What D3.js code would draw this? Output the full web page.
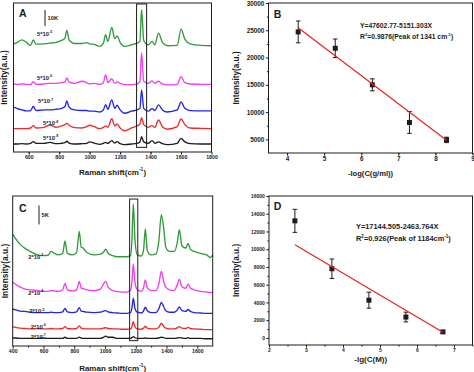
<!DOCTYPE html>
<html>
<head>
<meta charset="utf-8">
<script src="https://cdn.jsdelivr.net/npm/d3@7"></script>
<style>
  body { margin: 0; background: #fff; }
  svg { display: block; font-family: "Liberation Sans", Arial, sans-serif; font-weight: bold; }
</style>
</head>
<body>
<svg id="chart"></svg>
<script>
// ---- panel A: spectra, 5*10^-5 ... 5*10^-9 g/ml (heights in K counts above each baseline)
const ramanA = [500,525,555,585,612,630,648,700,740,780,815,838,850,865,900,950,980,1000,1030,1068,1090,1105,1120,1145,1165,1180,1200,1230,1275,1310,1330,1341,1355,1385,1410,1428,1452,1478,1510,1575,1600,1625,1660,1730,1800];
const concA = ["5*10", "5*10", "5*10", "5*10", "5*10"];
const expA = ["-5", "-6", "-7", "-8", "-9"];
const offsetA = [67, 42.5, 26.3, 14.8, 5.0];
const greenA = [0.4,1.5,3.1,1.5,-0.4,3.1,0.4,0.6,1.0,1.5,2.7,4.2,9.0,3.1,0.8,0.8,1.3,0.6,0.2,-1.0,1.0,6.3,2.1,10.8,3.8,5.6,1.5,-1.0,0,1.0,2.1,21.9,2.7,0,2.1,0,7.3,1.5,-0.6,-0.4,9.8,3.5,0.6,-0.4,-0.6];
const magentaA = [0,-0.2,0,-0.2,-0.4,1.5,-0.2,0,0.4,0.4,0.8,1.3,3.8,1.3,0.4,1.7,0.8,0,0.4,-0.2,0.8,5.6,0.8,3.3,0.4,1.3,0.4,-0.4,-0.4,0,1.5,19.6,1.7,0.4,1.9,0.4,1.7,0,-0.6,-0.2,4.6,0.8,0,-0.2,-0.2];
const blueA = [1.7,0.8,0,-0.6,-0.4,2.1,-0.4,0,0,0.4,1.0,2.1,5.6,1.7,0,-0.4,-0.4,-0.8,-0.8,-1.3,0,3.3,0.4,6.3,1.0,2.9,0,-2.1,-0.8,0,1.0,12.5,1.0,-0.8,0.8,-0.4,3.1,0,-1.3,0,5.0,1.0,-0.4,-0.6,-0.6];
const redA = [-0.2,-0.2,-0.2,-0.2,0.2,1.7,0.2,0.6,2.1,0.6,1.5,2.3,3.1,1.9,0.4,0.2,1.0,1.9,1.0,-0.2,0.6,1.5,0.6,6.0,1.5,2.7,0.2,-1.5,0.2,1.5,2.7,6.7,2.3,0.6,1.7,0.6,5.2,1.0,-0.6,1.0,5.8,2.3,0.2,0,-0.2];
const blackA = [0,0,0.2,0,0.4,1.5,0.4,0.4,1.0,0.2,0.4,0.8,1.7,0.6,0,0.2,0.4,1.3,0.6,-0.2,0.4,1.0,0.4,2.1,0.6,1.5,0.2,-0.4,0,0.4,1.3,4.6,1.3,0.4,2.1,0.4,1.3,0.2,-0.4,0.4,3.5,1.3,0.2,0,0];
const ticksAx = [600, 800, 1000, 1200, 1400, 1600, 1800];

// ---- panel C: spectra, 2*10^-3 ... 2*10^-7 M
const ramanC = [400,420,450,480,520,560,600,630,650,670,700,725,740,755,790,815,833,845,858,880,930,970,990,1005,1020,1050,1080,1110,1140,1165,1175,1184,1195,1210,1235,1250,1262,1275,1300,1330,1350,1366,1381,1395,1420,1450,1470,1483,1500,1525,1540,1555,1580,1620,1660,1685,1700];
const concC = ["2*10", "2*10", "2*10", "2*10", "2*10"];
const expC = ["-3", "-4", "-5", "-6", "-7"];
const offsetC = [23.8, 14.4, 8.8, 4.5, 2.0];
const greenC = [5.7,4.4,2.9,1.9,1.0,0.2,0,0.1,1.1,0.6,0.2,0.6,3.9,0.6,0.2,0.8,6.4,2.2,2.0,0.9,0.2,0.4,0.9,1.7,0.6,0,-0.3,-0.3,-0.3,0,4.0,13.6,4.0,0.2,-0.1,1.3,7.0,1.3,0.2,0.4,3.9,10.8,7.4,2.2,1.1,1.1,3.5,6.8,2.6,2.0,3.2,1.7,1.1,0.6,0.2,-0.5,0.2];
const magentaC = [2.4,1.8,1.1,0.6,0.4,0.2,0,0,0.2,0.1,0,0.4,2.1,0.4,0.1,0.4,2.6,0.9,0.7,0.4,0.2,0.6,1.9,2.6,1.1,0.2,-0.1,-0.2,-0.2,0.2,2.5,7.2,2.2,0.4,0,0.9,3.0,0.9,0.2,0.2,1.9,5.3,2.6,1.1,0.4,0.2,1.8,3.2,1.2,0.8,1.9,0.9,0.4,0,-0.2,-0.3,-0.3];
const blueC = [1.0,0.7,0.4,0.3,0.1,0,0,0,0.1,0,0,0.2,1.1,0.2,0,0.2,1.3,0.4,0.3,0.1,0,0.1,0.4,0.5,0.2,0,-0.1,-0.2,-0.2,0,1.2,3.8,1.0,0.1,-0.1,0.4,1.4,0.5,0,0,1.0,2.7,1.6,0.5,0.1,0.1,0.7,1.5,0.5,0.3,0.8,0.3,0,-0.1,-0.2,-0.2,-0.2];
const redC = [0.6,0.4,0.2,0.1,0,0.1,0,0,0.1,0,0,0.1,0.6,0.1,0,0.1,0.8,0.2,0.1,0,0,0,0.2,0.3,0.1,0,0,-0.1,-0.1,0,0.6,1.9,0.5,0,-0.1,0.2,0.7,0.2,0,0,0.4,1.5,0.7,0.2,0,0,0.3,0.6,0.2,0.1,0.4,0.1,0,-0.1,-0.2,-0.2,-0.2];
const blackC = [0.1,0.1,0,0,0,0,0.1,0,0,0,0,0,0.3,0,0,0,0.35,0.1,0,0,0,0,0.3,0.6,0.3,0.3,0,0,0,0,0.2,0.45,0.2,0,0,0,0.1,0,0,0,0.1,0.3,0.2,0,0,0,0.1,0.2,0.1,0,0.2,0,0,0,-0.1,-0.1,-0.1];
const ticksCx = [400, 600, 800, 1000, 1200, 1400, 1600];

// ---- panel B: peak 1341 cm-1 vs -log(C)
const logB = [4.3, 5.3, 6.3, 7.3, 8.3];
const intB = [24700, 21700, 15000, 8100, 4900];
const errB = [2000, 1700, 1100, 2000, 500];
const fitB = [47602.77, -5151.303];
const ticksBx = [4, 5, 6, 7, 8, 9];
const ticksBy = [5000, 10000, 15000, 20000, 25000, 30000];

// ---- panel D: peak 1184 cm-1 vs -lg(C)
const lgD = [2.7, 3.7, 4.7, 5.7, 6.7];
const intD = [13200, 7800, 4250, 2350, 680];
const errD = [1300, 1100, 900, 550, 150];
const fitD = [17144.505, -2463.764];
const ticksDx = [2, 3, 4, 5, 6, 7];
const ticksDy = [0, 2000, 4000, 6000, 8000, 10000, 12000, 14000, 16000];

const colors = ["#339a3c", "#f03ef0", "#2424e4", "#ea2c2c", "#1c1c1c"];
const ink = "#1c1c1c";

const svg = d3.select("#chart").attr("width", 474).attr("height", 372);
svg.append("rect").attr("width", 474).attr("height", 372).attr("fill", "#fff");

// text with superscripts; parts are strings or {sup: "..."}
function richText(g, x, y, parts, size, anchor) {
  const t = g.append("text").attr("x", x).attr("y", y)
    .attr("font-size", size).attr("fill", ink)
    .attr("text-anchor", anchor || "start");
  let up = false;
  parts.forEach(p => {
    const sup = typeof p !== "string";
    const ts = t.append("tspan").text(sup ? p.sup : p);
    if (sup) {
      ts.attr("font-size", size * 0.62);
      if (!up) { ts.attr("dy", -size * 0.42); up = true; }
    } else if (up) {
      ts.attr("dy", size * 0.42); up = false;
    }
  });
  return t;
}

function frame(g, x, y) {
  g.append("rect")
    .attr("x", x.range()[0]).attr("y", y.range()[1])
    .attr("width", x.range()[1] - x.range()[0])
    .attr("height", y.range()[0] - y.range()[1])
    .attr("fill", "none").attr("stroke", ink).attr("stroke-width", 1);
}

function styleAxis(a, size) {
  a.attr("font-family", null).attr("font-size", size);
  a.select(".domain").remove();
  a.selectAll("line").attr("stroke", ink);
  a.selectAll("text").attr("fill", ink);
}

function bottomAxis(g, x, y0, major, minor, size) {
  g.append("g").attr("transform", `translate(0,${y0})`)
    .call(d3.axisBottom(x).tickValues(minor).tickSize(1.6).tickFormat(""))
    .call(a => styleAxis(a, size));
  g.append("g").attr("transform", `translate(0,${y0})`)
    .call(d3.axisBottom(x).tickValues(major).tickSize(2.6).tickPadding(1).tickFormat(d3.format("d")))
    .call(a => styleAxis(a, size));
}

function leftAxis(g, y, x0, major, minor, size) {
  g.append("g").attr("transform", `translate(${x0},0)`)
    .call(d3.axisLeft(y).tickValues(minor).tickSize(1.6).tickFormat(""))
    .call(a => styleAxis(a, size));
  g.append("g").attr("transform", `translate(${x0},0)`)
    .call(d3.axisLeft(y).tickValues(major).tickSize(2.6).tickPadding(1.5).tickFormat(d3.format("d")))
    .call(a => styleAxis(a, size));
}

function yTitle(g, cx, cy, size) {
  g.append("text").attr("transform", `translate(${cx},${cy}) rotate(-90)`)
    .attr("text-anchor", "middle").attr("dy", "0.35em")
    .attr("font-size", size).attr("fill", ink).text("Intensity(a.u.)");
}

function spectraPanel(p) {
  const g = svg.append("g");
  const x = d3.scaleLinear().domain(p.xDomain).range(p.xRange);
  const y = d3.scaleLinear().domain(p.yDomain).range(p.yRange);
  const line = d3.line().x(d => x(d[0])).y(d => y(d[1])).curve(d3.curveMonotoneX);

  p.series.forEach((s, i) => {
    const pts = p.raman.map((w, j) => [w, p.offsets[i] + s[j]]);
    g.append("path").attr("d", line(pts))
      .attr("fill", "none").attr("stroke", colors[i])
      .attr("stroke-width", 1.35).attr("stroke-linejoin", "round");
  });

  // marked peak
  g.append("rect")
    .attr("x", x(p.box[0])).attr("y", y(p.box[3]))
    .attr("width", x(p.box[1]) - x(p.box[0]))
    .attr("height", y(p.box[2]) - y(p.box[3]))
    .attr("fill", "none").attr("stroke", ink).attr("stroke-width", 1);

  // concentration labels
  p.conc.forEach((c, i) => {
    const pos = p.labelPos[i];
    richText(g, x(pos[0]), y(pos[1]) + 2, [c, { sup: p.exps[i] }], 5.8);
  });

  // intensity scale bar
  g.append("line")
    .attr("x1", x(p.bar[0])).attr("x2", x(p.bar[0]))
    .attr("y1", y(p.bar[1])).attr("y2", y(p.bar[2]))
    .attr("stroke", ink).attr("stroke-width", 1);
  g.append("text").attr("x", x(p.bar[0]) + 2.5).attr("y", y((p.bar[1] + p.bar[2]) / 2) + 2)
    .attr("font-size", 5.8).attr("fill", ink).text(p.barLabel);

  frame(g, x, y);
  const minor = d3.range(p.xDomain[0] + 100, p.xDomain[1], 200);
  bottomAxis(g, x, p.yRange[0], p.ticks, minor, 5.2);

  g.append("text").attr("x", p.letter[0]).attr("y", p.letter[1])
    .attr("font-size", 10.5).attr("fill", ink).text(p.name);
  richText(g, (p.xRange[0] + p.xRange[1]) / 2, p.titleY,
    ["Raman shift(cm", { sup: "-1" }, ")"], 8, "middle");
  yTitle(g, p.yTitleX, (p.yRange[0] + p.yRange[1]) / 2, 8.4);
}

function scatterPanel(p) {
  const g = svg.append("g");
  const x = d3.scaleLinear().domain(p.xDomain).range(p.xRange);
  const y = d3.scaleLinear().domain(p.yDomain).range(p.yRange);

  frame(g, x, y);
  bottomAxis(g, x, p.yRange[0], p.ticksX, d3.range(p.xDomain[0] + 0.5, p.xDomain[1] + 0.01, 1), p.tickSize);
  leftAxis(g, y, p.xRange[0], p.ticksY, p.minorY, p.tickSize);

  // error bars
  const eb = g.append("g").attr("stroke", ink).attr("stroke-width", 1);
  p.xs.forEach((v, i) => {
    const cx = x(v), top = y(p.ys[i] + p.err[i]), bot = y(p.ys[i] - p.err[i]);
    eb.append("line").attr("x1", cx).attr("x2", cx).attr("y1", top).attr("y2", bot);
    eb.append("line").attr("x1", cx - 2.3).attr("x2", cx + 2.3).attr("y1", top).attr("y2", top);
    eb.append("line").attr("x1", cx - 2.3).attr("x2", cx + 2.3).attr("y1", bot).attr("y2", bot);
  });
  g.selectAll(".pt").data(p.xs).join("rect").attr("class", "pt")
    .attr("x", d => x(d) - 2.5).attr("y", (d, i) => y(p.ys[i]) - 2.5)
    .attr("width", 5).attr("height", 5).attr("fill", ink);

  // linear fit from the printed equation
  const ends = [p.xs[0], p.xs[p.xs.length - 1]];
  g.append("line")
    .attr("x1", x(ends[0])).attr("y1", y(p.fit[0] + p.fit[1] * ends[0]))
    .attr("x2", x(ends[1])).attr("y2", y(p.fit[0] + p.fit[1] * ends[1]))
    .attr("stroke", "#e8231f").attr("stroke-width", 1.2);

  g.append("text").attr("x", p.letter[0]).attr("y", p.letter[1])
    .attr("font-size", 10.5).attr("fill", ink).text(p.name);
  richText(g, p.eqPos[0], p.eqPos[1], [p.eq], p.eqSize);
  richText(g, p.eqPos[0], p.eqPos[1] + p.eqGap, p.r2, p.eqSize);
  g.append("text").attr("x", (p.xRange[0] + p.xRange[1]) / 2).attr("y", p.titleY)
    .attr("text-anchor", "middle").attr("font-size", p.titleSize).attr("fill", ink).text(p.title);
  yTitle(g, 236, (p.yRange[0] + p.yRange[1]) / 2, 8.2);
}

spectraPanel({
  name: "A", letter: [19, 16.8],
  xDomain: [500, 1800], xRange: [13.5, 211.5],
  yDomain: [0, 93.1], yRange: [152, 3],
  raman: ramanA, offsets: offsetA,
  series: [greenA, magentaA, blueA, redA, blackA],
  conc: concA, exps: expA,
  labelPos: [[655, 73.8], [655, 46.3], [661, 31.9], [694, 18.1], [694, 8.8]],
  box: [1308, 1374, 2.9, 92.5],
  bar: [707, 78.75, 88.75], barLabel: "10K",
  ticks: ticksAx, titleY: 174.5, yTitleX: 4
});

spectraPanel({
  name: "C", letter: [19, 211.5],
  xDomain: [400, 1700], xRange: [12.7, 212.7],
  yDomain: [0, 39.5], yRange: [346, 196],
  raman: ramanC, offsets: offsetC,
  series: [greenC, magentaC, blueC, redC, blackC],
  conc: concC, exps: expC,
  labelPos: [[501, 23.5], [501, 14.0], [508, 9.1], [517, 5.1], [517, 2.4]],
  box: [1160, 1213, 1.4, 38.7],
  bar: [571, 32, 37], barLabel: "5K",
  ticks: ticksCx, titleY: 370.5, yTitleX: 5
});

scatterPanel({
  name: "B", letter: [273.7, 18.4],
  xDomain: [3.5, 9], xRange: [268.5, 472.5],
  yDomain: [2500, 30000], yRange: [153, 3],
  xs: logB, ys: intB, err: errB, fit: fitB,
  ticksX: ticksBx, ticksY: ticksBy, minorY: d3.range(7500, 30000, 5000), tickSize: 6.4,
  eq: "Y=47602.77-5151.303X",
  r2: ["R", { sup: "2" }, "=0.9876(Peak of 1341 cm", { sup: "-1" }, ")"],
  eqPos: [360, 27.5], eqGap: 11.5, eqSize: 6.8,
  title: "-log(C(g/ml))", titleY: 176, titleSize: 7.6
});

scatterPanel({
  name: "D", letter: [273.7, 210.2],
  xDomain: [2, 7.5], xRange: [269, 472.5],
  yDomain: [-800, 16000], yRange: [345, 196],
  xs: lgD, ys: intD, err: errD, fit: fitD,
  ticksX: ticksDx, ticksY: ticksDy, minorY: d3.range(1000, 16000, 2000), tickSize: 5,
  eq: "Y=17144.505-2463.764X",
  r2: ["R", { sup: "2" }, "=0.926(Peak of 1184cm", { sup: "-1" }, ")"],
  eqPos: [356, 228.5], eqGap: 12.5, eqSize: 7.4,
  title: "-lg(C(M))", titleY: 362, titleSize: 8
});
</script>
</body>
</html>
